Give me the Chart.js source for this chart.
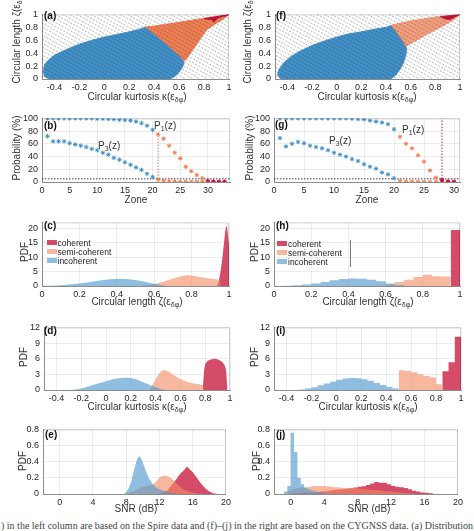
<!DOCTYPE html>
<html><head><meta charset="utf-8">
<script src="https://cdn.jsdelivr.net/npm/chart.js@4/dist/chart.umd.min.js"></script>
<style>
html,body{margin:0;padding:0;background:#fff}
body{width:474px;height:531px;overflow:hidden;position:relative;font-family:'Liberation Sans',Arial,sans-serif;color:#333}
.box{position:absolute}
.tx{position:absolute;white-space:nowrap;font-size:10px;line-height:12px;color:#333;z-index:5}
.tx sub{font-size:7px;vertical-align:-2px;line-height:0}
.lt{font-weight:bold;color:#111}
.leg{position:absolute;z-index:5;font-size:8.5px;line-height:9px;color:#222;white-space:nowrap}
.sw{display:inline-block;width:10px;height:5px;margin-right:1px;vertical-align:1px}
.cap{position:absolute;left:1px;top:520px;font-family:'Liberation Serif','Times New Roman',serif;font-size:10px;color:#444;white-space:nowrap}
</style></head><body>
<script>
const F = "'Liberation Sans', Arial, sans-serif";
/* ---------- tick labels ---------- */
const kurtTicks = [-0.4,-0.2,0,0.2,0.4,0.6,0.8,1];
const lenTicks = [0,0.2,0.4,0.6,0.8,1];
const zoneTicks = [0,5,10,15,20,25,30];
const probTicks = [0,20,40,60,80,100];
const pdfLenTicks = [0,5,10,15,20];
const pdfKurtTicks = [0,3,6,9,12];
const snrTicks = [0,4,8,12,16,20];
const pdfSnrTicks = [0,0.2,0.4,0.6,0.8];
const classNames = ['coherent','semi-coherent','incoherent'];

/* ---------- (a) Spire scatter cloud outlines [kurtosis, length] ---------- */
const spireIncoh = [[-0.44,0],[-0.48,0.04],[-0.49,0.12],[-0.48,0.22],[-0.45,0.29],[-0.4,0.37],[-0.3,0.46],[-0.2,0.54],[-0.1,0.6],[0,0.65],[0.1,0.69],[0.2,0.73],[0.28,0.77],[0.33,0.805],[0.4,0.7],[0.47,0.59],[0.54,0.47],[0.6,0.37],[0.63,0.3],[0.64,0.24],[0.62,0.16],[0.59,0.08],[0.55,0.02],[0.52,0]];
const spireSemi = [[0.33,0.805],[0.4,0.82],[0.5,0.85],[0.6,0.88],[0.7,0.91],[0.8,0.94],[0.9,0.97],[1,1],[0.95,0.92],[0.88,0.84],[0.82,0.76],[0.77,0.62],[0.72,0.48],[0.67,0.34],[0.64,0.27],[0.63,0.3],[0.6,0.37],[0.54,0.47],[0.47,0.59],[0.4,0.7]];
const spireCoh = [[0.8,0.935],[0.9,0.965],[1,1],[0.99,0.985],[0.93,0.96],[0.9,0.93],[0.88,0.88],[0.86,0.92],[0.82,0.925]];
/* ---------- (f) CYGNSS scatter cloud outlines ---------- */
const cygIncoh = [[-0.45,0],[-0.48,0.06],[-0.47,0.14],[-0.43,0.25],[-0.37,0.35],[-0.3,0.43],[-0.2,0.52],[-0.1,0.59],[0,0.65],[0.1,0.7],[0.2,0.73],[0.3,0.77],[0.4,0.8],[0.44,0.83],[0.48,0.74],[0.52,0.63],[0.55,0.55],[0.57,0.46],[0.56,0.36],[0.54,0.24],[0.51,0.14],[0.48,0.06],[0.44,0]];
const cygSemi = [[0.44,0.83],[0.5,0.86],[0.6,0.9],[0.7,0.93],[0.8,0.96],[0.9,0.98],[1,1],[0.95,0.92],[0.88,0.84],[0.8,0.76],[0.72,0.68],[0.65,0.6],[0.6,0.55],[0.56,0.5],[0.55,0.55],[0.52,0.63],[0.48,0.74]];
const cygCoh = [[0.84,0.965],[0.92,0.98],[1,1],[0.97,0.97],[0.92,0.92],[0.88,0.93]];

/* ---------- (b) Spire zone probabilities ---------- */
const spireZones = [1,2,3,4,5,6,7,8,9,10,11,12,13,14,15,16,17,18,19,20,21,22,23,24,25,26,27,28,29,30,31,32,33];
const spireP1 = [100,100,100,100,100,100,100,100,100,99.5,99.5,99,98.5,98,97.5,96.5,95,92.5,88.5,82,75,68,57,46,37,24,17,11,6,2,1,0.5,0.5];
const spireP3 = [72,64,64,64,61,59,57,55,52,50,46,43,38,35,31,27,23,19,13,8,4,2,1.5,1,0.5,0.5,0.3,0.3,0.3,0,0,0,0];
const spireSemiStart = 21, spireCohStart = 30, spireZoneCut = 21, spireCutTop = 77, probThreshold = 5;
/* ---------- (g) CYGNSS zone probabilities ---------- */
const cygZones = [1,2,3,4,5,6,7,8,9,10,11,12,13,14,15,16,17,18,19,20,21,22,23,24,25,26,27,28,29,30];
const cygP1 = [100,100,100,100,100,100,100,100,100,100,100,100,99.5,99,98.5,96.5,95,93.5,91,83,71,60,53,42,32,18,7,3.5,1,0.5];
const cygP3 = [69,56,60,63,61,57,55,53,50,46,43,40,36,33,28,24,21,15,12,6,2,1,0.5,0.3,0.2,0.2,0.5,2,0.3,0];
const cygSemiStart = 21, cygCohStart = 28, cygZoneCut = 28;

/* ---------- (c) Spire PDF of circular length ---------- */
const spLenIncohX = [0,0.05,0.1,0.15,0.2,0.25,0.3,0.35,0.4,0.45,0.5,0.55,0.6,0.625,0.65,0.67];
const spLenIncohY = [0.05,0.1,0.25,0.5,0.85,1.3,1.8,2.25,2.5,2.45,2.1,1.5,0.8,0.4,0.15,0];
const spLenSemiX = [0.52,0.55,0.6,0.65,0.7,0.75,0.78,0.8,0.85,0.9,0.93,0.95,0.955];
const spLenSemiY = [0,0.15,0.6,1.5,2.6,3.5,3.7,3.6,3.0,2.5,2.3,2.1,0];
const spLenCohX = [0.935,0.945,0.955,0.965,0.975,0.98,0.985,0.99,0.995,1];
const spLenCohY = [0,1.5,5,10,16,19,21,20,17,14];
/* ---------- (d) Spire PDF of circular kurtosis ---------- */
const spKurIncohX = [-0.3,-0.25,-0.2,-0.15,-0.1,-0.05,0,0.05,0.1,0.15,0.2,0.25,0.3,0.35,0.4,0.45,0.48];
const spKurIncohY = [0,0.1,0.3,0.6,1.0,1.35,1.7,2.0,2.25,2.35,2.3,2.0,1.5,1.0,0.55,0.15,0];
const spKurSemiX = [0.35,0.37,0.4,0.43,0.45,0.47,0.5,0.55,0.6,0.65,0.7,0.75,0.78,0.79];
const spKurSemiY = [0,0.8,2.0,3.2,3.7,3.9,3.6,2.8,2.1,1.6,1.3,1.1,0.9,0];
const spKurCohX = [0.78,0.79,0.8,0.82,0.85,0.88,0.91,0.94,0.96,0.97,0.975,0.98];
const spKurCohY = [0,3.5,5.0,5.6,5.9,6.0,5.8,5.3,4.6,3.5,1.5,0];
/* ---------- (e) Spire PDF of SNR ---------- */
const spSnrIncohX = [7.8,8.2,8.6,9.0,9.3,9.6,9.9,10.2,10.5,10.8,11.2,11.6,12,12.5,13,14];
const spSnrIncohY = [0,0.05,0.15,0.32,0.43,0.47,0.42,0.33,0.25,0.18,0.12,0.08,0.06,0.04,0.02,0];
const spSnrSemiX = [8,8.5,9,9.5,10,10.5,11,11.5,12,12.3,12.6,13,13.5,14,14.5,15,15.5,16,17];
const spSnrSemiY = [0,0.02,0.04,0.07,0.09,0.1,0.11,0.14,0.2,0.22,0.23,0.22,0.19,0.14,0.09,0.05,0.03,0.015,0];
const spSnrCohX = [11.8,12.5,13,13.5,14,14.5,15,15.3,15.6,16,16.5,17,17.5,18,18.5,19];
const spSnrCohY = [0,0.02,0.05,0.11,0.18,0.25,0.3,0.34,0.31,0.27,0.2,0.13,0.07,0.03,0.01,0];

/* ---------- (h) CYGNSS histogram of circular length (bin width 0.05) ---------- */
const cyLenBinW = 0.05;
const cyLenIncohStart = 0.05, cyLenIncoh = [0.1,0.25,0.5,0.9,1.4,2.0,2.4,2.6,2.5,2.2,1.6,0.9,0.3];
const cyLenSemiStart = 0.6, cyLenSemi = [0.4,1.4,2.2,3.1,3.9,3.4,3.3];
const cyLenCohStart = 0.95, cyLenCoh = [19.4];
/* ---------- (i) CYGNSS histogram of circular kurtosis (bin width 0.05) ---------- */
const cyKurBinW = 0.05;
const cyKurIncohStart = -0.3, cyKurIncoh = [0.1,0.3,0.55,0.9,1.25,1.6,1.95,2.2,2.3,2.25,2.05,1.75,1.35,0.95,0.6,0.3];
const cyKurSemiStart = 0.5, cyKurSemi = [3.8,3.7,3.4,3.0,2.7,2.4,1.1];
const cyKurCohStart = 0.85, cyKurCoh = [3.6,5.3,10.2];
/* ---------- (j) CYGNSS histogram of SNR ---------- */
const cySnrIncohStart = -0.8, cySnrIncohW = 0.4, cySnrIncoh = [0.03,0.1,0.76,0.52,0.2,0.12,0.08,0.06,0.04,0.03,0.02,0.015,0.01];
const cySnrSemiStart = -0.4, cySnrSemiW = 0.5, cySnrSemi = [0.04,0.06,0.07,0.08,0.08,0.09,0.1,0.1,0.1,0.095,0.09,0.085,0.08,0.075,0.075,0.07,0.07,0.065,0.06,0.055,0.05,0.045,0.04,0.035,0.03,0.025,0.02,0.015,0.01,0.005];
const cySnrCohStart = 0, cySnrCohW = 0.5, cySnrCoh = [0.005,0.01,0.012,0.015,0.018,0.02,0.025,0.03,0.035,0.04,0.05,0.055,0.06,0.065,0.07,0.08,0.09,0.095,0.11,0.13,0.15,0.14,0.14,0.12,0.1,0.09,0.085,0.075,0.06,0.04,0.03,0.02,0.015,0.008];

/* ---------- styling ---------- */
const C_SC = {incoh:'rgb(64,143,199)', semi:'rgb(238,125,82)', coh:'rgb(196,16,56)'};
const C_H = {incoh:'rgba(75,150,205,0.62)', semi:'rgba(242,140,100,0.62)', coh:'rgba(200,25,60,0.78)'};
const fmt = v => String(parseFloat(Number(v).toFixed(2)));

const frame = {id:'frame', afterDraw(c){const a=c.chartArea,x=c.ctx;x.save();x.strokeStyle='rgba(0,0,0,0.18)';x.lineWidth=1;
  x.beginPath();x.moveTo(a.left,a.top+0.5);x.lineTo(a.right-0.5,a.top+0.5);x.lineTo(a.right-0.5,a.bottom);x.stroke();x.restore();}};
const hatch = {id:'hatch', afterDatasetsDraw(c){const a=c.chartArea,x=c.ctx;x.save();x.beginPath();x.rect(a.left,a.top,a.width,a.height);x.clip();
  x.strokeStyle='rgba(50,50,50,0.6)';x.lineWidth=0.6;x.setLineDash([2,1.4]);const h=a.height,k=1.8;
  for(let s=a.left-h*k;s<a.right+8;s+=7.2){x.beginPath();x.moveTo(s,a.top);x.lineTo(s+h*k,a.bottom);x.stroke();}x.restore();}};

function panel(rect, datasets, xs, ys, opts){
  opts = opts||{};
  const [l,t,r,b] = rect.map(Math.round);
  const div = document.createElement('div'); div.className='box';
  div.style.left=(l-40)+'px'; div.style.top=(t-6)+'px';
  div.style.width=(r-l+46)+'px'; div.style.height=(b-t+26)+'px';
  const cv = document.createElement('canvas'); div.appendChild(cv); document.body.appendChild(div);
  const axis = (o,isX)=>({type:'linear',min:o.min,max:o.max,
    afterBuildTicks:s=>{s.ticks=o.ticks.map(v=>({value:v}));},
    afterFit:s=>{ if(isX) s.height=20; else s.width=40; },
    grid:{display:opts.grid!==false,color:'rgba(0,0,0,0.07)',drawTicks:false},
    border:{display:true,color:'#8c8c8c',width:1},
    ticks:{padding:isX?3:4,autoSkip:false,maxRotation:0,color:'#262626',font:{family:F,size:9},callback:v=>fmt(v)}});
  new Chart(cv,{type:'scatter',data:{datasets},options:{responsive:true,maintainAspectRatio:false,animation:false,events:[],
    layout:{padding:{left:0,top:6,right:6,bottom:0}},
    plugins:{legend:{display:false},tooltip:{enabled:false}},
    scales:{x:axis(xs,true),y:axis(ys,false)}},plugins:[frame].concat(opts.plugins||[])});
}
const poly = (pts,color,order)=>({data:pts.concat([pts[0]]).map(p=>({x:p[0],y:p[1]})),showLine:true,fill:'shape',
  backgroundColor:color,borderColor:color,borderWidth:0.8,pointRadius:0,order});
const curve = (xs,ys,color,order)=>({data:xs.map((x,i)=>({x,y:ys[i]})),showLine:true,fill:'origin',
  backgroundColor:color,borderColor:'rgba(0,0,0,0)',borderWidth:0,pointRadius:0,order});
const steps = (start,w,vals,color,order)=>{const d=vals.map((v,i)=>({x:start+i*w,y:v}));d.push({x:start+vals.length*w,y:0});
  return {data:d,showLine:true,stepped:'before',fill:'origin',backgroundColor:color,borderColor:'rgba(0,0,0,0)',borderWidth:0,pointRadius:0,order};};
const zoneColor = (z,s,c)=> z>=c?C_SC.coh:(z>=s?C_SC.semi:C_SC.incoh);
const marks = (zones,vals,s,c)=>({data:zones.map((z,i)=>({x:z,y:vals[i]})),pointStyle:'star',pointRadius:2.2,borderWidth:1,
  pointBorderColor:ctx=>ctx.raw?zoneColor(ctx.raw.x,s,c):C_SC.incoh,pointBackgroundColor:'rgba(0,0,0,0)',order:1});
const hline = (x0,x1,y,color)=>({data:[{x:x0,y},{x:x1,y}],showLine:true,borderColor:color,borderWidth:1,borderDash:[1.5,1.5],pointRadius:0,order:5});
const vline = (x,y0,y1,color)=>({data:[{x,y:y0},{x,y:y1}],showLine:true,borderColor:color,borderWidth:1,borderDash:[1.5,1.5],pointRadius:0,order:5});

/* (a) / (f) */
panel([41.5,11,228.5,79],[poly(spireCoh,C_SC.coh,1),poly(spireSemi,C_SC.semi,2),poly(spireIncoh,C_SC.incoh,3)],
  {min:-0.5,max:1,ticks:kurtTicks},{min:0,max:1,ticks:lenTicks},{grid:false,plugins:[hatch]});
panel([275,11,460,79],[poly(cygCoh,C_SC.coh,1),poly(cygSemi,'rgba(238,125,82,0.75)',2),poly(cygIncoh,C_SC.incoh,3)],
  {min:-0.5,max:1,ticks:kurtTicks},{min:0,max:1,ticks:lenTicks},{grid:false,plugins:[hatch]});
/* (b) / (g) */
panel([42,115,230,182],[marks(spireZones,spireP1,spireSemiStart,spireCohStart),marks(spireZones,spireP3,spireSemiStart,spireCohStart),
  hline(0,34,probThreshold,'#444'),vline(spireZoneCut,0,spireCutTop,'rgb(240,110,80)')],
  {min:0,max:34,ticks:zoneTicks},{min:0,max:100,ticks:probTicks});
panel([274,115,460,182],[marks(cygZones,cygP1,cygSemiStart,cygCohStart),marks(cygZones,cygP3,cygSemiStart,cygCohStart),
  hline(0,31,probThreshold,'#444'),vline(cygZoneCut,0,100,'rgb(210,30,60)')],
  {min:0,max:31,ticks:zoneTicks},{min:0,max:100,ticks:probTicks});
/* (c) / (h) */
panel([42,219,228.5,286],[curve(spLenIncohX,spLenIncohY,C_H.incoh,1),curve(spLenSemiX,spLenSemiY,C_H.semi,2),curve(spLenCohX,spLenCohY,C_H.coh,3)],
  {min:0,max:1,ticks:lenTicks},{min:0,max:22,ticks:pdfLenTicks});
panel([274,219,460,286],[steps(cyLenIncohStart,cyLenBinW,cyLenIncoh,C_H.incoh,1),steps(cyLenSemiStart,cyLenBinW,cyLenSemi,C_H.semi,2),steps(cyLenCohStart,cyLenBinW,cyLenCoh,C_H.coh,3)],
  {min:0,max:1,ticks:lenTicks},{min:0,max:22,ticks:pdfLenTicks});
/* (d) / (i) */
panel([44,324,229.5,390],[curve(spKurIncohX,spKurIncohY,C_H.incoh,1),curve(spKurSemiX,spKurSemiY,C_H.semi,2),curve(spKurCohX,spKurCohY,C_H.coh,3)],
  {min:-0.5,max:1,ticks:kurtTicks},{min:0,max:12,ticks:pdfKurtTicks});
panel([274,324,460.5,390],[steps(cyKurIncohStart,cyKurBinW,cyKurIncoh,C_H.incoh,1),steps(cyKurSemiStart,cyKurBinW,cyKurSemi,C_H.semi,2),steps(cyKurCohStart,cyKurBinW,cyKurCoh,C_H.coh,3)],
  {min:-0.5,max:1,ticks:kurtTicks},{min:0,max:12,ticks:pdfKurtTicks});
/* (e) / (j) */
panel([42.5,426,227.7,494],[curve(spSnrIncohX,spSnrIncohY,C_H.incoh,1),curve(spSnrSemiX,spSnrSemiY,C_H.semi,2),curve(spSnrCohX,spSnrCohY,C_H.coh,3)],
  {min:-2,max:20,ticks:snrTicks},{min:0,max:0.8,ticks:pdfSnrTicks});
panel([273.5,426,459.7,494],[steps(cySnrIncohStart,cySnrIncohW,cySnrIncoh,C_H.incoh,1),steps(cySnrSemiStart,cySnrSemiW,cySnrSemi,C_H.semi,2),steps(cySnrCohStart,cySnrCohW,cySnrCoh,C_H.coh,3)],
  {min:-2,max:20,ticks:snrTicks},{min:0,max:0.8,ticks:pdfSnrTicks});

/* ---------- text overlays ---------- */
function txt(html,cx,cy,cls,rot){const d=document.createElement('div');d.className='tx '+(cls||'');d.innerHTML=html;
  d.style.left=cx+'px';d.style.top=cy+'px';d.style.transform='translate(-50%,-50%)'+(rot?' rotate(-90deg)':'');document.body.appendChild(d);}
function ltxt(html,x,cy,cls){const d=document.createElement('div');d.className='tx '+(cls||'');d.innerHTML=html;
  d.style.left=x+'px';d.style.top=(cy-6)+'px';document.body.appendChild(d);}
const LEN = 'Circular length &zeta;(&epsilon;<sub>&delta;&phi;</sub>)';
const KUR = 'Circular kurtosis &kappa;(&epsilon;<sub>&delta;&phi;</sub>)';
// y titles
txt(LEN,17,38,'',true); txt(LEN,248,38,'',true);
txt('Probability (%)',17,148,'',true); txt('Probability (%)',250,148,'',true);
txt('PDF',25,252,'',true); txt('PDF',255,252,'',true);
txt('PDF',24,357,'',true); txt('PDF',255,357,'',true);
txt('PDF',23,461,'',true); txt('PDF',257,461,'',true);
// x titles
txt(KUR,137,97); txt(KUR,367,97);
txt('Zone',136,200); txt('Zone',367,200);
txt(LEN,137,302); txt(LEN,368,302);
txt(KUR,137,407); txt(KUR,368,407);
txt('SNR (dB)',136,509); txt('SNR (dB)',369,509);
// panel letters
[['(a)',44,16],['(b)',44,126],['(c)',44,226],['(d)',44,331],['(e)',45,435],
 ['(f)',276,16],['(g)',275,125],['(h)',276,226],['(i)',276,331],['(j)',276,435]].forEach(p=>ltxt(p[0],p[1],p[2],'lt'));
// curve labels
ltxt('P<sub>1</sub>(z)',154,126); ltxt('P<sub>3</sub>(z)',98,146);
ltxt('P<sub>1</sub>(z)',402,130); ltxt('P<sub>3</sub>(z)',329,141);
// legends
function legend(x,y,border){const d=document.createElement('div');d.className='leg';d.style.left=x+'px';d.style.top=y+'px';
  if(border){d.style.borderRight='1px solid #777';d.style.paddingRight='8px';}
  const cols=[C_H.coh,C_H.semi,C_H.incoh];
  d.innerHTML=classNames.map((n,i)=>'<div><span class="sw" style="background:'+cols[i]+'"></span>'+n+'</div>').join('');document.body.appendChild(d);}
legend(46.5,238.5,false); legend(277,239.5,true);
// caption
const cap=document.createElement('div');cap.className='cap';
cap.textContent=') in the left column are based on the Spire data and (f)\u2013(j) in the right are based on the CYGNSS data. (a) Distribution';
document.body.appendChild(cap);
</script>
</body></html>
